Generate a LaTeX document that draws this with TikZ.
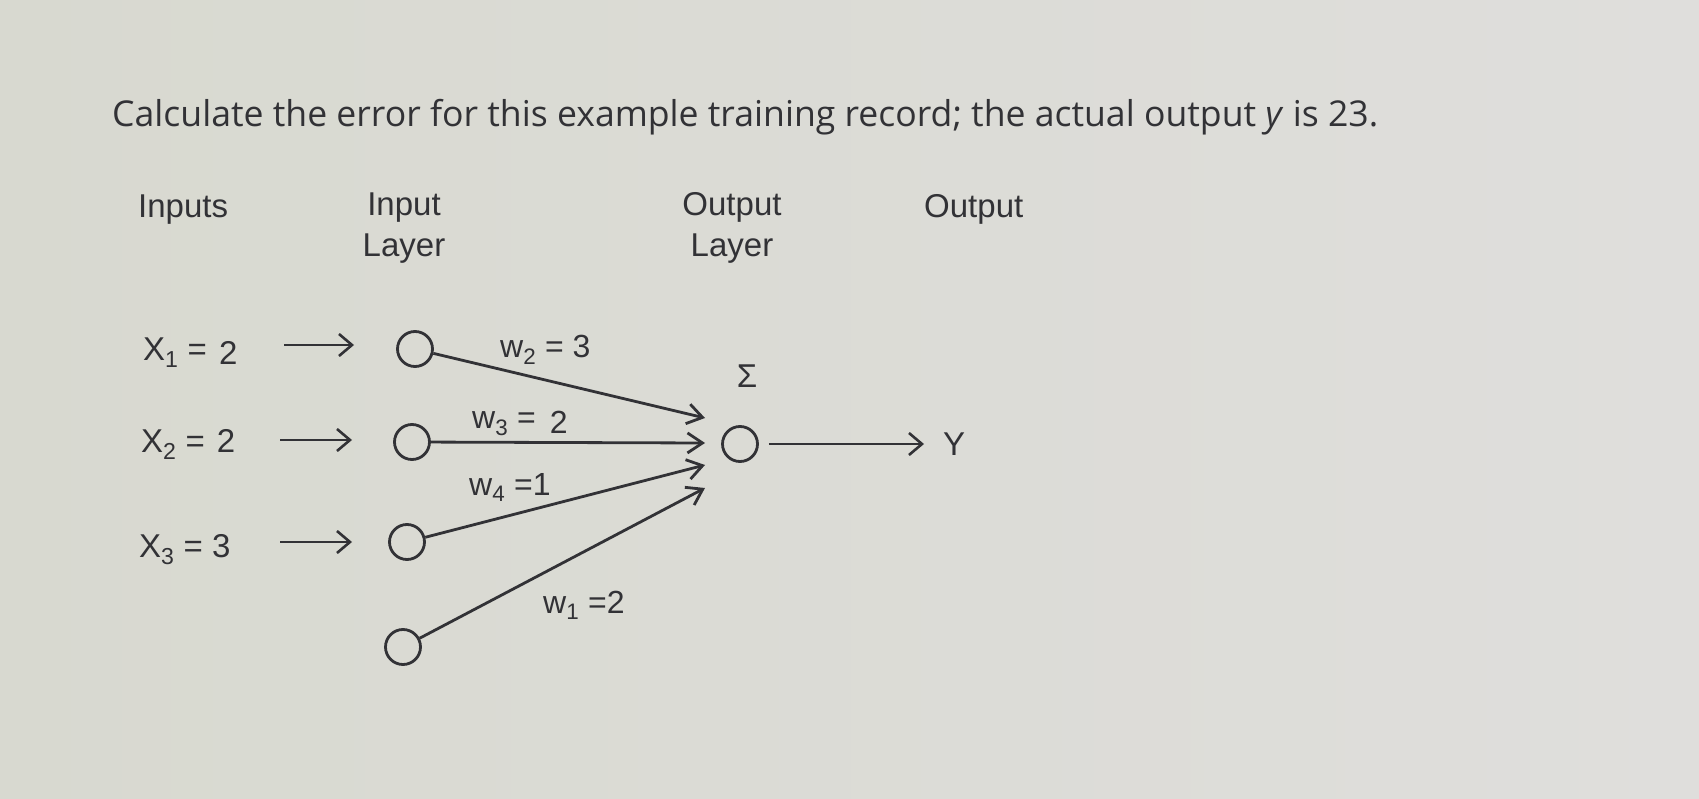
\documentclass[tikz,border=0pt]{standalone}
\usepackage{fontspec}
\setmainfont{Liberation Sans}
\newfontfamily\titlefont{Open Sans}
\usetikzlibrary{arrows.meta}
\definecolor{bgL}{RGB}{216,217,208}
\definecolor{bgR}{RGB}{223,222,220}
\definecolor{ink}{RGB}{50,50,54}
\tikzset{
  lbl/.style={inner sep=0pt, text=ink, font=\fontsize{33}{41}\selectfont},
  wlbl/.style={inner sep=0pt, text=ink, font=\fontsize{32}{38}\selectfont},
  neuron/.style={circle, draw=ink, line width=2.8pt, minimum size=35pt, inner sep=0pt},
  inarrow/.style={draw=ink, line width=2.6pt, -{Straight Barb[length=13pt,width=22pt,line width=2.6pt]}},
  conn/.style={draw=ink, line width=2.8pt, -{Straight Barb[length=15pt,width=20pt,line width=2.8pt]}},
}
\begin{document}
\begin{tikzpicture}[x=1pt,y=-1pt]
\useasboundingbox (0,0) rectangle (1699,799);
\shade[left color=bgL, right color=bgR] (0,0) rectangle (1699,799);

% title
\node[lbl, anchor=base west, font=\titlefont\fontsize{35.6}{42}\selectfont] (title) at (112,127)
  {Calculate the error for this example training record; the actual output \textit{y} is 23.};

% headers
\node[lbl, anchor=base west] (hin) at (138,218) {Inputs};
\node[lbl, align=center] (hil) at (404,228) {Input\\Layer};
\node[lbl, align=center] (hol) at (732,228) {Output\\Layer};
\node[lbl, anchor=base west] (hout) at (924,218) {Output};

% input labels
\node[lbl, anchor=base west] (x1) at (143,360) {X\textsubscript{1} =\hspace{12pt}\raisebox{-4pt}{2}};
\node[lbl, anchor=base west] (x2) at (141,452) {X\textsubscript{2} =\hspace{12pt}2};
\node[lbl, anchor=base west] (x3) at (139,557) {X\textsubscript{3} = 3};

% neurons
\node[neuron] (i1) at (415,349) {};
\node[neuron] (i2) at (412,442) {};
\node[neuron] (i3) at (407,542) {};
\node[neuron] (i4) at (403,647) {};
\node[neuron] (o) at (740,444) {};

% input arrows
\coordinate (a1s) at (284,345); \coordinate (a1e) at (354,345);
\coordinate (a2s) at (280,440); \coordinate (a2e) at (352,440);
\coordinate (a3s) at (280,542); \coordinate (a3e) at (352,542);
\draw[inarrow] (a1s) -- (a1e);
\draw[inarrow] (a2s) -- (a2e);
\draw[inarrow] (a3s) -- (a3e);

% tips
\coordinate (t1) at (705,418);
\coordinate (t2) at (705,443);
\coordinate (t3) at (705,465);
\coordinate (t4) at (705,488);
\draw[conn] (i1) -- (t1);
\draw[conn] (i2) -- (t2);
\draw[conn] (i3) -- (t3);
\draw[conn] (i4) -- (t4);

% weights
\node[wlbl, anchor=base west] (w2) at (500,357) {w\textsubscript{2} = 3};
\node[wlbl, anchor=base west] (w3) at (472,428) {w\textsubscript{3} =\hspace{14pt}\raisebox{-5pt}{2}};
\node[wlbl, anchor=base west] (w4) at (469,495) {w\textsubscript{4} =1};
\node[wlbl, anchor=base west] (w1) at (543,613) {w\textsubscript{1} =2};

% output
\node[lbl] (sig) at (747,376) {Σ};
\node[lbl, anchor=base west] (y) at (943,455) {Y};
\coordinate (oe) at (924,444);
\draw[inarrow, line width=2.8pt] (o.east) ++(10,0) coordinate (os) -- (oe);
\end{tikzpicture}
\end{document}
